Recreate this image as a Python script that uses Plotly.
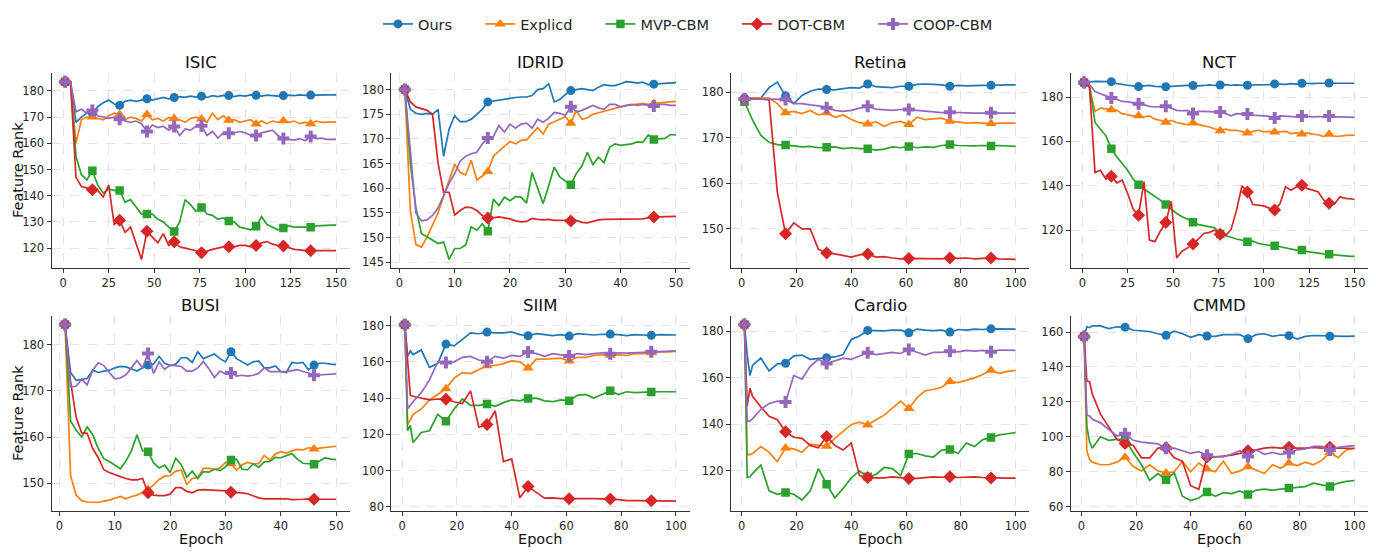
import plotly.graph_objects as go

METHODS = ["Ours", "Explicd", "MVP-CBM", "DOT-CBM", "COOP-CBM"]
COLORS = ["#1f77b4", "#ff7f0e", "#2ca02c", "#d62728", "#9467bd"]
SYMBOLS = ["circle", "triangle-up", "square", "diamond", "cross"]
MSIZE = [9, 10, 8.5, 10, 10]

# epochs sampled for each training length
EP50 = list(range(1, 51))
EP100 = [1, 2, 3] + list(range(4, 101, 3))
EP150 = [1, 2, 3] + list(range(4, 149, 3)) + [150]

# ---------------- ISIC (150 epochs) ----------------
isic_ours = [183.5, 183.5, 183.5, 183.5, 168, 170, 171.5, 171.5, 174, 175.5,
             176.5, 175, 174.5, 176, 176.5, 176, 176.5, 177, 176.5, 177,
             177.5, 177, 177.5, 177.8, 177.5, 178, 177.6, 178, 177.5, 178.2,
             177.8, 178.3, 178.2, 177.8, 178.3, 178, 178.5, 178.3, 178, 178.4,
             178.2, 178, 178.2, 178.4, 178.2, 178.5, 178.3, 178.4, 178.5, 178.4,
             178.5, 178.5, 178.5]
isic_explicd = [183.5, 183.5, 183.5, 183.5, 160, 169, 170, 170, 169.5, 169,
                170.5, 171.5, 171, 169, 170, 169.5, 168.5, 171, 169, 169.5,
                168.5, 169.8, 169.5, 169, 168, 169.5, 170, 169.3, 168, 171.5,
                169, 170.5, 168.8, 169, 168, 168.5, 169, 167.4, 168.5, 167.5,
                168.5, 168, 168.6, 168, 168.5, 167.5, 168, 167.5, 168.5, 168,
                168, 168.2, 168.2]
isic_mvp = [183.5, 183.5, 183.5, 183.5, 155, 148, 146, 149.5, 144, 141,
            142.5, 142, 142, 137.5, 138.5, 135.5, 133, 133, 133, 131,
            130, 128, 126.3, 130, 138.5, 136.5, 134, 135.5, 133, 132.5,
            131, 131.5, 130.3, 130, 128, 127.5, 127, 128.3, 132, 129,
            128, 127, 127.7, 128.5, 128, 128, 128.2, 128, 128.5, 128.5,
            128.7, 128.8, 128.8]
isic_dot = [183.5, 183.5, 183.5, 183.5, 147, 143.5, 143, 142.3, 142, 139.5,
            144, 129, 130.6, 126, 128, 122, 115.7, 126.4, 124, 122,
            125.5, 121, 122.4, 120.5, 120, 119.5, 119, 118.2, 119, 119.5,
            120, 120.5, 120.5, 120.5, 121, 121, 120.5, 121, 122, 122.5,
            121.5, 121, 120.8, 120, 119.5, 119.3, 119, 119, 119, 119,
            119, 119, 119]
isic_coop = [183.5, 183.5, 183.5, 183.5, 172, 173, 171.5, 172.5, 170.5, 170,
             169.5, 170, 169.2, 168.5, 168, 168.5, 167.5, 164.5, 167, 166,
             166.5, 165, 166.4, 163, 165.5, 165, 166.5, 166.7, 163, 164.5,
             162, 164, 163.8, 164, 164.5, 164, 163, 163, 164, 164.5,
             165, 163, 161.8, 161.5, 161.2, 161.8, 161, 162.6, 161.8, 162,
             161.5, 161.5, 161.5]

# ---------------- IDRID (50 epochs) ----------------
idrid_ours = [180, 176, 175.2, 175, 175.2, 175, 176, 166.5, 172, 174.7,
              173.5, 173.5, 174, 175, 176, 177.5, 177.7, 177.8, 178, 178.3,
              178.4, 178.5, 178.5, 178.8, 180, 180.2, 181.2, 177.5, 178, 179,
              179.8, 180, 180.2, 180, 179.8, 180.5, 181, 180.8, 180.8, 181.2,
              181.6, 181.5, 181.3, 181.5, 181, 181.1, 181.2, 181.3, 181.3, 181.4]
idrid_explicd = [180, 155.4, 148.6, 148.1, 150.1, 152.5, 155, 158.4, 161.5, 164.9,
                 163.2, 162.7, 165.7, 161.7, 162.5, 163.4, 166.5, 167.5, 168.5, 169.5,
                 169, 169.7, 169.8, 171, 172.3, 171, 173, 173.5, 174, 174.5,
                 173.2, 175.8, 174, 174.3, 175, 175.3, 175.5, 175.8, 176.2, 176.5,
                 176.8, 176.9, 177, 177.2, 177, 177.2, 177.3, 177.4, 177.5, 177.6]
idrid_mvp = [180, 165, 156, 150.8, 150.2, 149.5, 148.8, 149.1, 145.6, 147.8,
             147.8, 148.5, 152.2, 151.5, 152.8, 151.3, 157.8, 156.5, 158.2, 157.5,
             158.3, 158.2, 157, 163.2, 160, 156.9, 160.5, 164.3, 162.3, 161.5,
             160.7, 163, 164.5, 167.3, 164.8, 166.3, 165.2, 168.3, 169, 168.7,
             168.8, 169, 169.4, 169.3, 170.8, 169.9, 170, 170.1, 170.9, 170.8]
idrid_dot = [180, 177.5, 176.5, 176.2, 175.8, 175, 165.1, 159.2, 159.2, 154.6,
             155.5, 156.2, 156.1, 155.5, 154.5, 154, 154, 154.2, 154, 153.8,
             153.4, 153.2, 153.3, 153.9, 153.7, 153.6, 153.7, 153.5, 153.5, 153.5,
             153.4, 153.5, 153.1, 153, 153.3, 153.6, 153.7, 153.7, 153.8, 153.8,
             153.8, 153.8, 153.8, 153.8, 154, 154.2, 154.2, 154.2, 154.3, 154.3]
idrid_coop = [180, 168, 155, 153.4, 153.6, 154.5, 156, 158.5, 161, 163,
              165.5, 166.5, 167, 167.3, 169, 170.2, 170.5, 172.7, 171.4, 173,
              172.2, 173, 173.2, 172.2, 174, 173.4, 174.2, 175.4, 175.2, 174.8,
              176.5, 175.5, 175.8, 176.3, 176.8, 176.3, 176, 177, 177, 176.5,
              176.8, 177, 176.8, 177, 176.8, 176.7, 177, 177, 176.8, 176.8]

# ---------------- Retina (100 epochs) ----------------
retina_ours = [178.7, 178.7, 178.7, 178.7, 178.7, 181, 182.2, 179.2, 177.5, 179.3,
               180.2, 180.7, 180.6, 180.5, 180.8, 181, 180.9, 181.8, 181.2, 181.1,
               181, 181.3, 181.3, 181.7, 181.8, 181.7, 181.6, 181.3, 181.5, 181.4,
               181.5, 181.5, 181.5, 181.6, 181.6, 181.6]
retina_explicd = [178.7, 178.7, 178.7, 178.7, 178.7, 178.7, 177.5, 175.5, 175.8, 175.3,
                  176, 175, 175.5, 174.5, 175, 174, 173.3, 173, 173.5, 172.5,
                  173.3, 173.6, 172.9, 174.5, 174, 174.2, 174.3, 173.6, 173.5, 173.2,
                  173.3, 173.2, 173.1, 173.2, 173.2, 173.2]
retina_mvp = [177.9, 176.5, 175, 173.8, 170.5, 169, 168.5, 168.4, 168.2, 168,
              168.1, 167.8, 167.9, 168, 167.6, 167.8, 167.6, 167.6, 167.3, 167.5,
              168, 167.8, 168.1, 167.8, 168, 167.9, 168.3, 168.5, 168.3, 168.2,
              168.2, 168.3, 168.2, 168.3, 168.2, 168.1]
retina_dot = [178.5, 178.5, 178.5, 178.5, 178.5, 178.3, 158, 148.9, 151.3, 150,
              150, 145.5, 144.7, 144.5, 144.2, 143.8, 144.3, 144.5, 143.8, 143.9,
              143.6, 143.4, 143.5, 143.5, 143.5, 143.5, 143.4, 143.6, 143.5, 143.6,
              143.4, 143.5, 143.6, 143.4, 143.3, 143.3]
retina_coop = [178.5, 178.5, 178.5, 178.5, 178.5, 178.5, 178.5, 178.4, 177.5, 177.5,
               177.2, 177, 176.6, 176, 175.8, 176, 176.5, 176.9, 176.3, 176.2,
               176, 176.2, 176.2, 176, 175.8, 175.6, 175.5, 175.6, 175.5, 175.4,
               175.4, 175.4, 175.5, 175.4, 175.4, 175.4]

# ---------------- NCT (150 epochs) ----------------
nct_ours = [186.5, 186.5, 186.5, 186.8, 187, 187, 187, 186.9, 186, 185.5,
            185.3, 185, 184.7, 185, 185.2, 184.8, 184.6, 184.6, 184.8, 185,
            185, 185.2, 185.2, 185, 185.2, 185.5, 185.2, 185.4, 185.6, 185.3,
            185.5, 185.3, 185.3, 185.4, 185.5, 185.6, 185.6, 185.9, 185.8, 185.7,
            186, 185.8, 186.2, 186, 186, 186.2, 186.2, 186.3, 186.2, 186.3,
            186.3, 186.2, 186.2]
nct_explicd = [186.5, 186.5, 186.5, 184, 173.5, 175, 174.8, 174.3, 174, 172.5,
               172, 171.5, 171.5, 171, 171.5, 170, 169.5, 168.6, 169.5, 168.5,
               168, 167.5, 168.3, 167.5, 167, 166.5, 165.5, 164.8, 165.5, 165,
               165, 164.5, 163.8, 164.5, 165, 164.3, 164.5, 164.2, 164.5, 164.5,
               163.5, 163.8, 163.3, 163.8, 163.3, 163, 162.2, 163.2, 162.3, 162.3,
               162.7, 162.8, 162.8]
nct_mvp = [186.5, 186.5, 186.5, 185, 168.5, 165.5, 162.5, 156.7, 153, 150,
           147, 143, 140.5, 138.5, 136.8, 135.5, 133.5, 131.5, 129.5, 127.5,
           126, 125, 123.5, 122.5, 122, 121.5, 121, 118.2, 117.5, 116.5,
           116, 115.5, 114.8, 115, 114, 113.5, 113.3, 112.9, 112.5, 112,
           111.5, 111, 111, 110.3, 110, 109.5, 109.3, 109.1, 108.8, 108.5,
           108.3, 108.2, 108.2]
nct_dot = [186.5, 186.5, 186.5, 184, 146, 147, 143, 144.3, 141.3, 142.5,
           136.5, 129.5, 126.7, 141.9, 115.5, 114.8, 119.5, 123.4, 133, 107.5,
           110.5, 112, 113.7, 116, 118.5, 119, 120, 118.1, 117.5, 120.3,
           129, 140, 137.2, 131.5, 131.3, 130.9, 129.9, 129.1, 132, 139.5,
           138, 139.5, 140.2, 138.7, 138, 137.2, 133.6, 132.1, 131.8, 135,
           134.3, 133.9, 133.9]
nct_coop = [186.5, 186.5, 186.5, 185.5, 182.5, 181.5, 180.5, 179.6, 179, 178,
            177.8, 177.5, 177, 176.5, 175.8, 175.5, 175.5, 175.8, 175, 174,
            173.8, 174, 172.6, 173.5, 173.5, 173.5, 173.3, 173.2, 172.5, 171.5,
            172.5, 172.5, 172.3, 171.8, 171.5, 171.5, 171.3, 170.5, 171.5, 171.3,
            171, 171, 171.4, 171.2, 171, 171.2, 171, 171.4, 171, 171,
            170.8, 170.8, 170.8]

# ---------------- BUSI (50 epochs) ----------------
busi_ours = [184.4, 174, 172.3, 172.5, 172.7, 174.5, 174, 174.3, 174.5, 175,
             175.3, 175.2, 174.7, 174.3, 175, 175.6, 175.8, 177.5, 176, 175.5,
             175.8, 177.2, 177.2, 176.2, 178.5, 177, 177.5, 178, 177, 176.3,
             178.5, 177, 176.3, 175.6, 176.3, 176.5, 175, 175, 175.4, 174.2,
             174, 176.2, 176, 176.2, 174.6, 175.6, 176, 176, 175.8, 175.7]
busi_explicd = [184.4, 151.6, 147.4, 146.2, 145.9, 145.8, 145.8, 146.1, 146.3, 146.7,
                147.1, 146.6, 147.1, 147.4, 148, 148.6, 149.6, 150.8, 151.5, 151.6,
                152.6, 152.8, 149.7, 151, 151.2, 153.2, 153.2, 153, 153.3, 154.5,
                154.2, 152.8, 154, 154.5, 154.2, 154.2, 156, 155, 156.3, 156.8,
                156.5, 157, 157.3, 157.2, 157.7, 157.4, 157.6, 157.7, 157.9, 158]
busi_mvp = [184.4, 163.5, 161.5, 160, 162.2, 160.5, 157.5, 155.3, 154.7, 153.8,
            153.1, 154.8, 157, 160.5, 157, 156.8, 154.4, 153.3, 153.9, 152.3,
            155.4, 154, 151.3, 152.6, 151, 152.5, 152.4, 153, 152.7, 153.5,
            155, 155.2, 153, 152.9, 154.2, 153.4, 154.6, 154.7, 155.6, 155.5,
            156, 156.4, 155.2, 154.3, 154.2, 154.1, 154.8, 155.5, 155.2, 155.1]
busi_dot = [184.4, 172, 164.3, 160.9, 160.8, 157.5, 155.5, 152.9, 152.3, 151.8,
            151.4, 151, 150.7, 150.7, 151, 147.9, 147.4, 147.3, 147.3, 147.6,
            149, 149, 148.2, 147.9, 148.5, 148.6, 148.5, 148.5, 148.4, 148.3,
            148, 148, 147.9, 147.7, 147.3, 146.8, 146.6, 146.6, 146.7, 146.7,
            146.6, 146.4, 146.4, 146.5, 146.6, 146.5, 146.5, 146.5, 146.5, 146.5]
busi_coop = [184.4, 170.9, 171, 172.5, 171.3, 174.5, 176.1, 175.5, 174, 172.6,
             172.8, 173.5, 175, 176.6, 175, 178.1, 173.8, 176.3, 174.7, 175.6,
             175.5, 175.3, 174.3, 174.3, 175, 176.4, 174.8, 172.9, 174.3, 173.7,
             173.9, 173.2, 173.4, 173.2, 173.4, 173.8, 175, 174.2, 174.2, 174.2,
             174.2, 174.4, 174.6, 174.2, 173.9, 173.4, 173.5, 173.6, 173.7, 173.7]

# ---------------- SIIM (100 epochs) ----------------
siim_ours = [180.5, 163, 166, 164, 166.5, 157, 159, 169.8, 168.8, 172.5,
             176, 175.5, 176.4, 176, 176, 176.5, 175, 174.4, 175.5, 175,
             174.5, 175, 174.2, 175.5, 175, 174.8, 175.2, 175.3, 175, 174.5,
             175, 174.8, 174.6, 175, 175, 174.8]
siim_explicd = [180.5, 125.5, 128, 131, 134, 139, 142, 145.2, 151, 154,
                153.5, 155.5, 157.8, 158, 159, 160.5, 160, 156.6, 161.5, 161.5,
                161.8, 162, 160.5, 162.5, 162.5, 163.5, 164, 163.6, 164, 163.5,
                164.5, 164.5, 165, 165.5, 165.5, 165.8]
siim_mvp = [180.5, 122, 125, 115.5, 121, 122, 131, 127.2, 134, 139.5,
            136, 136, 136.8, 135.5, 137.5, 139, 138.5, 139.8, 140, 138.5,
            138, 139, 138.6, 141.5, 142, 140, 142, 144.1, 142, 143.5,
            143, 143, 143.4, 143.5, 143.5, 143.5]
siim_dot = [180.5, 160, 141.5, 141, 140, 139, 139.5, 139.3, 138, 137,
            144, 124, 125.4, 133, 105, 106.5, 85, 91.2, 88, 84.8,
            85, 84.5, 84.5, 84.3, 84.5, 84.5, 84.5, 84.3, 84, 83.5,
            83.5, 83.5, 83.4, 83.3, 83.3, 83.2]
siim_coop = [180.5, 134, 136, 138, 143, 150, 160, 159.6, 160, 162.5,
             163, 161, 160, 163, 162, 163.5, 163, 165.4, 164.5, 163,
             164.5, 164, 163.2, 164.5, 164, 164.5, 165, 164.5, 165, 164.8,
             165, 165.2, 165.6, 165.5, 166, 166]

# ---------------- Cardio (100 epochs) ----------------
cardio_ours = [183, 170, 161, 165.5, 168.5, 163, 166, 166.3, 169.5, 169.8,
               168, 168.5, 168.7, 169, 170, 176.5, 178, 180.4, 180.3, 180.2,
               180.5, 180.5, 179.4, 181, 180.5, 180.3, 180.5, 179.7, 180.8, 180.5,
               181, 180.8, 181.1, 181, 181, 181]
cardio_explicd = [183, 127, 127, 127.5, 130.5, 128, 124, 129.9, 129.5, 128,
                  131.5, 131, 130.6, 134, 137, 140, 141, 139.8, 142, 144,
                  147, 150, 146.8, 151.5, 154.5, 155, 156, 158.5, 158, 159,
                  160, 161.5, 163.3, 162, 162.8, 163.2]
cardio_mvp = [183, 117.2, 117.5, 119, 122.5, 111.5, 110, 110.8, 110, 107.5,
              111.5, 121, 114.3, 108.5, 112.5, 117, 120, 117.5, 118.5, 121.5,
              121, 118, 127.3, 127.5, 126.5, 126, 129, 129.2, 127.5, 132,
              130.5, 133.5, 134.4, 135.5, 136, 136.5]
cardio_dot = [183, 148, 155.5, 152, 147.5, 143.5, 142, 136.9, 134.5, 134,
              131, 130, 134.8, 131, 129, 132, 118, 117.2, 117, 117,
              117.5, 117, 116.8, 116.8, 117, 117.5, 117.3, 117.5, 117.2, 117.3,
              117.5, 117.2, 117, 117, 116.9, 116.9]
cardio_coop = [183, 141.2, 141.5, 142.5, 146.5, 149, 150, 149.6, 161, 159.5,
               165, 168, 166.2, 167.5, 168.5, 168, 169.5, 170.8, 170, 170.5,
               171, 170.5, 172.2, 171, 169.8, 171, 171, 171.5, 171.2, 171.8,
               171.5, 171.8, 171.2, 172, 172, 171.8]

# ---------------- CMMD (100 epochs) ----------------
cmmd_ours = [157.6, 163, 162.5, 163.5, 163.5, 162, 163, 162.8, 161, 160.8,
             160.3, 159, 158.1, 160.5, 159, 157, 158.5, 157.7, 157.5, 158.5,
             158.5, 158.5, 156.2, 158.5, 159, 157.5, 158.3, 157.9, 156, 157.5,
             158, 157.8, 157.6, 157.8, 157.5, 157.6]
cmmd_explicd = [157.5, 92, 87, 85.5, 84, 84, 85.5, 88.3, 83, 80.5,
                84, 80.5, 79.3, 80, 86, 80, 85, 81.6, 80, 86,
                79, 80.5, 82.9, 81, 79, 84, 82, 85, 83.5, 85.5,
                84, 86.5, 91, 88, 92.5, 93.5]
cmmd_mvp = [157.5, 106, 97, 93.5, 100, 98, 98.5, 98.5, 91, 84,
            75, 79, 75.4, 79.5, 66, 63.5, 65, 68.4, 66, 68,
            67.5, 69, 67, 69.5, 70, 69.5, 70, 70.7, 71, 71.5,
            73.5, 72.5, 71.6, 73.5, 74.5, 75]
cmmd_dot = [157.5, 132, 131.5, 124.5, 113, 106, 98.5, 96.2, 95, 88,
            88, 93.5, 93.8, 88, 86, 72, 70, 88.5, 88.5, 89,
            89.5, 90.5, 92, 92.5, 93.5, 94, 93.5, 94, 93.5, 93.5,
            94, 93.5, 94, 93.5, 93.5, 93.3]
cmmd_coop = [157.5, 112.5, 112, 110, 108, 104.5, 100.5, 101.7, 98, 97,
             96.5, 96, 93.4, 93.5, 92, 90.5, 91.5, 89.5, 88.5, 88.5,
             90, 92, 88.7, 92.5, 90, 91, 90, 91, 92.5, 93,
             94.5, 94.5, 92.5, 94, 94.5, 95]

PANELS = [
    ("ISIC", EP150, [isic_ours, isic_explicd, isic_mvp, isic_dot, isic_coop],
     [112.3, 186.9], list(range(120, 181, 10)), list(range(0, 151, 25))),
    ("IDRID", EP50, [idrid_ours, idrid_explicd, idrid_mvp, idrid_dot, idrid_coop],
     [143.8, 183.4], list(range(145, 181, 5)), list(range(0, 51, 10))),
    ("Retina", EP100, [retina_ours, retina_explicd, retina_mvp, retina_dot, retina_coop],
     [141.35, 184.25], list(range(150, 181, 10)), list(range(0, 101, 20))),
    ("NCT", EP150, [nct_ours, nct_explicd, nct_mvp, nct_dot, nct_coop],
     [102.8, 190.9], list(range(120, 181, 20)), list(range(0, 151, 25))),
    ("BUSI", EP50, [busi_ours, busi_explicd, busi_mvp, busi_dot, busi_coop],
     [143.9, 186.3], list(range(150, 181, 10)), list(range(0, 51, 10))),
    ("SIIM", EP100, [siim_ours, siim_explicd, siim_mvp, siim_dot, siim_coop],
     [77.6, 185.4], list(range(80, 181, 20)), list(range(0, 101, 20))),
    ("Cardio", EP100, [cardio_ours, cardio_explicd, cardio_mvp, cardio_dot, cardio_coop],
     [102.7, 186.7], list(range(120, 181, 20)), list(range(0, 101, 20))),
    ("CMMD", EP100, [cmmd_ours, cmmd_explicd, cmmd_mvp, cmmd_dot, cmmd_coop],
     [57.4, 169.3], list(range(60, 161, 20)), list(range(0, 101, 20))),
]

# the page body keeps an 8px margin, so the figure is drawn a bit smaller
# and every position below is given in window pixels, shifted by OFF
OFF = 8
W, H = 1360, 541
COL_PX = [(51.5, 349.7), (391.3, 689.5), (730.9, 1029.2), (1070.6, 1368)]
ROW_PX = [(66, 265.5), (314, 513.5)]
FONT = "DejaVu Sans"
INK = "#262626"


def px(x):
    return min(1.0, max(0.0, (x - OFF) / W))


def py(y):
    return 1 - (y - OFF) / H


fig = go.Figure()
annotations = []
layout = {}

for k, (title, epochs, series, yrange, yticks, xticks) in enumerate(PANELS):
    r, c = divmod(k, 4)
    ax = "" if k == 0 else str(k + 1)
    x0, x1 = COL_PX[c]
    top, bot = ROW_PX[r]
    xdom = [px(x0), px(x1)]
    ydom = [py(bot), py(top)]
    n = epochs[-1]
    pad = (n - 1) * 0.05

    for i, ys in enumerate(series):
        assert len(ys) == len(epochs), (title, i, len(ys), len(epochs))
        fig.add_trace(go.Scatter(
            x=epochs, y=ys, mode="lines", xaxis="x" + ax, yaxis="y" + ax,
            line=dict(color=COLORS[i], width=1.7), showlegend=False,
            hoverinfo="skip",
        ))
        mx = [e for e in epochs if (e - 1) % 15 == 0]
        my = [y for e, y in zip(epochs, ys) if (e - 1) % 15 == 0]
        fig.add_trace(go.Scatter(
            x=mx, y=my, mode="markers", xaxis="x" + ax, yaxis="y" + ax,
            marker=dict(color=COLORS[i], symbol=SYMBOLS[i], size=MSIZE[i],
                        line=dict(width=0)),
            showlegend=False, hoverinfo="skip",
        ))

    common = dict(
        showline=True, linecolor="#333333", linewidth=1,
        ticks="outside", ticklen=4, tickwidth=1, tickcolor="#333333",
        tickfont=dict(family=FONT, size=11.5, color=INK),
        showgrid=True, gridcolor="#e3e3e3", gridwidth=0.8, griddash="dash",
        zeroline=False, mirror=False, ticklabeloverflow="allow",
    )
    layout["xaxis" + ax] = dict(common, domain=xdom, anchor="y" + ax,
                                range=[1 - pad, n + pad], tickvals=xticks)
    layout["yaxis" + ax] = dict(common, domain=ydom, anchor="x" + ax,
                                range=yrange, tickvals=yticks)

    annotations.append(dict(
        text=title, x=(xdom[0] + xdom[1]) / 2, y=py(top - 11),
        xref="paper", yref="paper", showarrow=False, xanchor="center",
        yanchor="middle", font=dict(family=FONT, size=16.5, color="#111111"),
    ))
    if c == 0:
        annotations.append(dict(
            text="Feature Rank", x=px(17.5), y=py((top + bot) / 2),
            xref="paper", yref="paper", showarrow=False, textangle=-90,
            xanchor="center", yanchor="middle",
            font=dict(family=FONT, size=14.5, color="#111111"),
        ))
    if r == 1:
        annotations.append(dict(
            text="Epoch", x=(xdom[0] + xdom[1]) / 2, y=py(542),
            xref="paper", yref="paper", showarrow=False,
            xanchor="center", yanchor="middle",
            font=dict(family=FONT, size=14.5, color="#111111"),
        ))

# legend entries (trailing no-break spaces widen the gap between entries)
for i, name in enumerate(METHODS):
    label = name + ("\u00a0" * 5 if i < len(METHODS) - 1 else "")
    fig.add_trace(go.Scatter(
        x=[None], y=[None], mode="lines+markers", name=label,
        line=dict(color=COLORS[i], width=1.7),
        marker=dict(color=COLORS[i], symbol=SYMBOLS[i], size=MSIZE[i]),
    ))

fig.update_layout(
    **layout,
    width=W, height=H,
    margin=dict(l=0, r=0, t=0, b=0),
    paper_bgcolor="white", plot_bgcolor="white",
    annotations=annotations,
    legend=dict(orientation="h", x=px(688), xanchor="center", y=py(16),
                yanchor="middle", font=dict(family=FONT, size=14.5, color=INK),
                itemwidth=30),
    font=dict(family=FONT, color=INK),
)

fig.write_html("out.html")
